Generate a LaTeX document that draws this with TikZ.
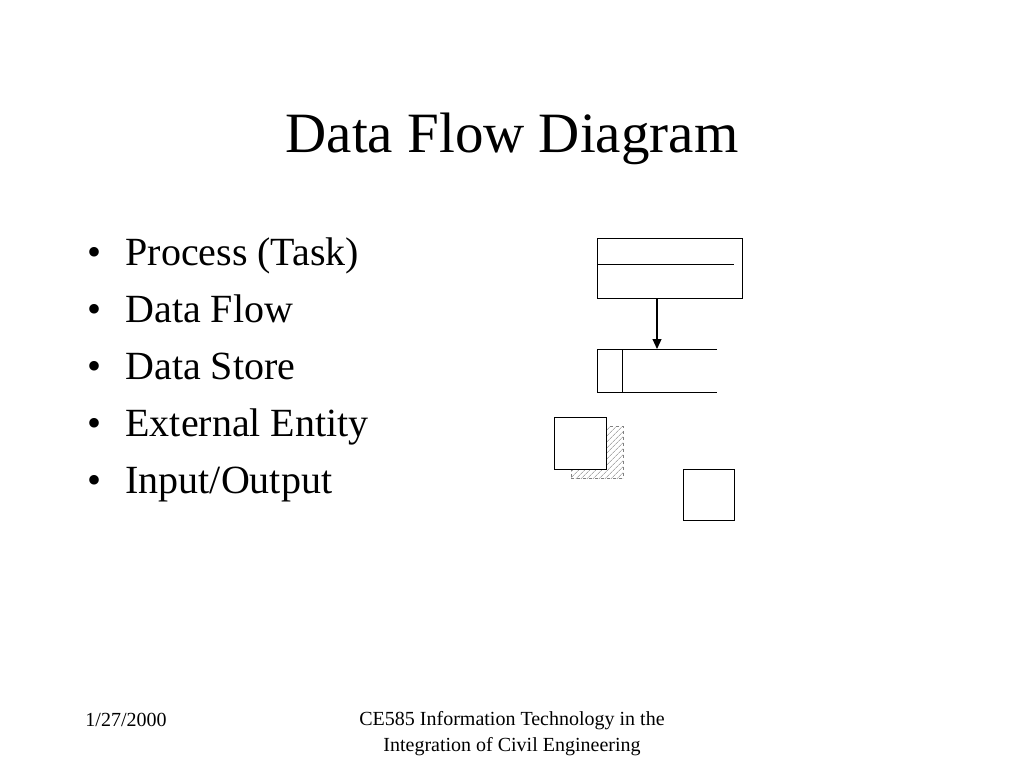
\documentclass[tikz,border=0pt]{standalone}
\usepackage{fontspec}
\setmainfont{Liberation Serif}
\usepackage{tikz}
\usetikzlibrary{arrows.meta,patterns.meta}
\newcommand{\slidebullet}[3] {\node at (87,#1) (#2b) [anchor=base west, inner sep=0pt, font=\fontsize{40}{44}\selectfont] {\textbullet};
  \node at (125,#1) (#2) [anchor=base west, inner sep=0pt, font=\fontsize{40}{44}\selectfont] {#3};}
\newcommand{\dfdsquare}[3] {\node at (#1) (#2) [rectangle, draw, fill=white, minimum width=#3, minimum height=#3, inner sep=0pt] {};}

\begin{document}
\begin{tikzpicture}[x=1pt,y=-1pt,line width=0.9pt]
\useasboundingbox (0,0) rectangle (1024,768);

\node at (512,152) (title) [anchor=base, inner sep=0pt, font=\fontsize{57}{62}\selectfont] {Data Flow Diagram};

\slidebullet {265}{process}{Process (Task)}
\slidebullet {322}{flow}{Data Flow}
\slidebullet {379}{store}{Data Store}
\slidebullet {436}{entity}{External Entity}
\slidebullet {493}{io}{Input/Output}

% process
\node at (669.5,268) (task) [rectangle, draw, minimum width=145, minimum height=60, inner sep=0pt] {};
\coordinate (task1) at (597,264);
\coordinate (task2) at (734,264);
\draw (task1) -- (task2);

% data store
\coordinate (store1) at (717,349);
\coordinate (store2) at (597,349);
\coordinate (store3) at (597,392);
\coordinate (store4) at (717,392);
\coordinate (store5) at (622,349);
\coordinate (store6) at (622,392);
\draw (store1) -- (store2) -- (store3) -- (store4);
\draw (store5) -- (store6);
\coordinate (storein) at (657,349);
\draw [line width=1.2pt, -{Triangle[length=10pt,width=9pt]}] (task.south -| storein) -- (storein);

% external entity
\node at (597,452) (shadow) [rectangle, draw=gray, dashed, line width=0.5pt, pattern={Lines[angle=45,distance=4pt,line width=0.6pt]}, pattern color=gray, minimum width=52, minimum height=52, inner sep=0pt] {};
\dfdsquare {580,443.5}{ent}{52}

% input/output
\dfdsquare {708.5,494.5}{inout}{51}

\node at (85,726) (date) [anchor=base west, inner sep=0pt, font=\fontsize{20}{26}\selectfont] {1/27/2000};
\node at (512,734) (course) [align=center, font=\fontsize{20}{26}\selectfont] {CE585 Information Technology in the\\Integration of Civil Engineering};

\end{tikzpicture}
\end{document}
